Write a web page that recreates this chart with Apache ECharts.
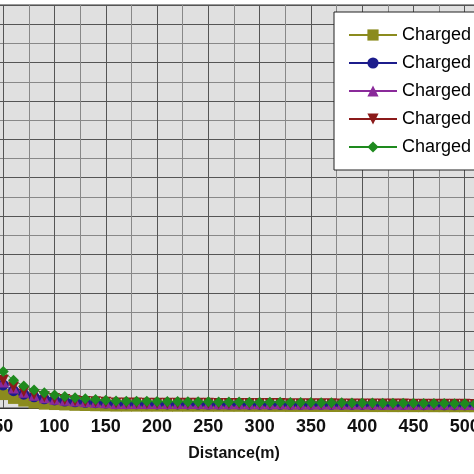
<!DOCTYPE html>
<html>
<head>
<meta charset="utf-8">
<script src="https://cdn.jsdelivr.net/npm/echarts@6/dist/echarts.min.js"></script>
<style>html,body{margin:0;padding:0;background:#fff;overflow:hidden}#c{width:474px;height:474px}</style>
</head>
<body>
<div id="c"></div>
<script>
// distance (m), every 10 m
const distance = [];
for (let d = 0; d <= 550; d += 10) distance.push(d);

const names = ['Charged density 1', 'Charged density 2', 'Charged density 3', 'Charged density 4', 'Charged density 5'];
const colors = ['#8b8b1e', '#1c1c8c', '#8a2a9a', '#8b1a1a', '#1e8a1e'];
const symbols = ['rect', 'circle', 'triangle', 'path://M0,0 L10,0 L5,10 Z', 'diamond'];

// near-field part, the tail is flat
const head = [
  [6.0, 3.2, 1.6, 0.9, 0.55, 0.35, 0.25, 0.18, 0.13, 0.1, 0.09, 0.08, 0.07, 0.065, 0.06, 0.055],
  [7.0, 3.8, 2.0, 1.2, 0.8, 0.6, 0.45, 0.36, 0.29, 0.24, 0.21, 0.18, 0.16, 0.15, 0.14, 0.13],
  [7.5, 4.1, 2.2, 1.35, 0.9, 0.68, 0.52, 0.41, 0.33, 0.27, 0.23, 0.2, 0.18, 0.16, 0.15, 0.14],
  [8.0, 4.4, 2.4, 1.45, 0.95, 0.72, 0.55, 0.43, 0.35, 0.29, 0.25, 0.22, 0.19, 0.17, 0.16, 0.15],
  [9.0, 5.0, 2.8, 1.7, 1.15, 0.95, 0.72, 0.57, 0.47, 0.4, 0.34, 0.3, 0.27, 0.24, 0.22, 0.2]
];
const tail = [0.05, 0.11, 0.12, 0.13, 0.18];
const tailEnd = [0.03, 0.08, 0.09, 0.09, 0.1];

const series = names.map((n, i) => {
  const vals = distance.map((d, k) => {
    if (k < head[i].length) return [d, head[i][k]];
    const t = (d - 160) / 390;
    return [d, +(tail[i] + (tailEnd[i] - tail[i]) * t).toFixed(3)];
  });
  return {
    name: n, type: 'line', data: vals, symbol: symbols[i], symbolSize: 11,
    itemStyle: { color: colors[i] }, lineStyle: { color: colors[i], width: 1 }
  };
});

const chart = echarts.init(document.getElementById('c'));
chart.setOption({
  animation: false,
  backgroundColor: '#fff',
  grid: { left: -48, top: 5, width: 564, height: 403, outerBoundsMode: 'none', containLabel: false,
    backgroundColor: '#e0e0e0', show: true, borderColor: '#333', borderWidth: 1 },
  legend: {
    left: 334, top: 12, orient: 'vertical', itemGap: 10, itemWidth: 48, itemHeight: 14,
    backgroundColor: '#fff', borderColor: '#222', borderWidth: 1, padding: [14, 10, 14, 14],
    textStyle: { fontFamily: 'Liberation Sans', fontSize: 18, color: '#000' }
  },
  xAxis: {
    type: 'value', min: 0, max: 550, interval: 50,
    name: 'Distance(m)', nameLocation: 'middle', nameGap: 38,
    nameTextStyle: { fontFamily: 'Liberation Sans', fontWeight: 'bold', fontSize: 16, color: '#111', padding: [0, 0, 0, 0] },
    axisLabel: { fontFamily: 'Liberation Sans', fontWeight: 'bold', fontSize: 18, color: '#111', margin: 10 },
    axisLine: { lineStyle: { color: '#333' } },
    axisTick: { show: false },
    splitLine: { show: true, lineStyle: { color: '#555', width: 1 } },
    minorTick: { show: false, splitNumber: 2 },
    minorSplitLine: { show: true, lineStyle: { color: '#888', width: 1 } }
  },
  yAxis: {
    type: 'value', min: 0, max: 10.5, interval: 1,
    axisLabel: { show: false }, axisTick: { show: false },
    axisLine: { show: false },
    splitLine: { show: true, lineStyle: { color: '#555', width: 1 } },
    minorTick: { show: false, splitNumber: 2 },
    minorSplitLine: { show: true, lineStyle: { color: '#888', width: 1 } }
  },
  series: series
});
</script>
</body>
</html>
